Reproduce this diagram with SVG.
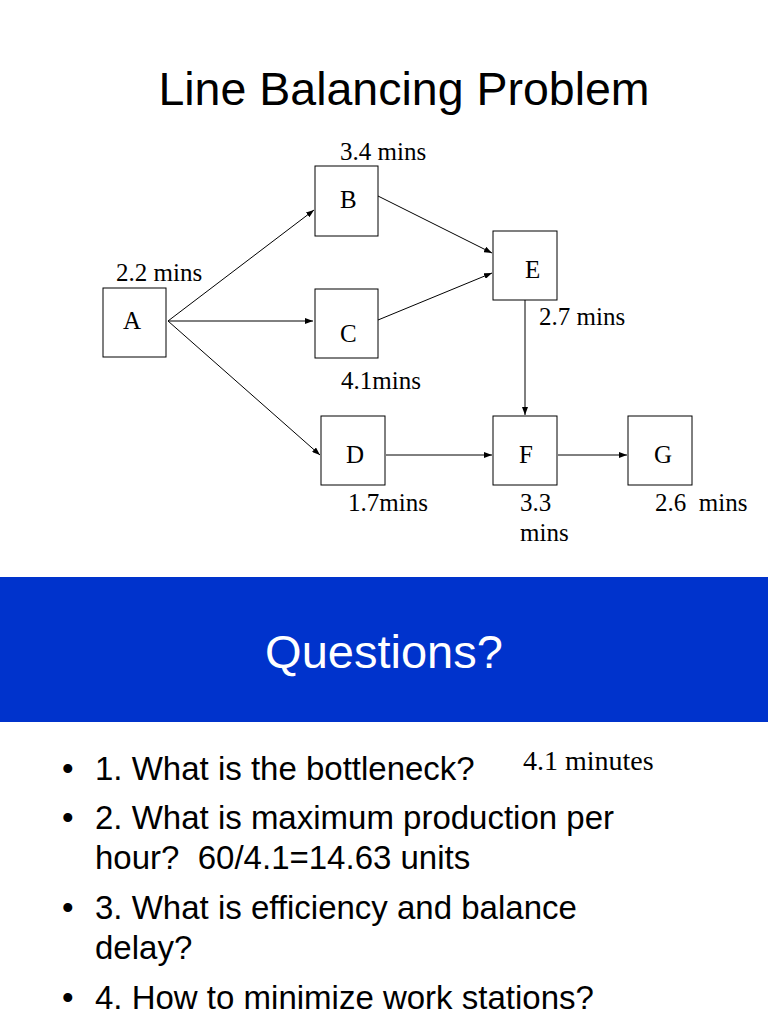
<svg xmlns="http://www.w3.org/2000/svg" width="768" height="1024" viewBox="0 0 768 1024">
<style>
.box{fill:#fff;stroke:#000;stroke-width:1}
.t{font-family:"Liberation Serif",serif;font-size:25px;fill:#000}
.s{font-family:"Liberation Sans",sans-serif;fill:#000}
.e{stroke:#000;stroke-width:1;fill:none;marker-end:url(#ah)}
</style>
<defs><marker id="ah" markerWidth="8" markerHeight="6" refX="8" refY="3" orient="auto" markerUnits="userSpaceOnUse"><path d="M0,0L8,3L0,6z" fill="#000"/></marker></defs>
<rect width="768" height="1024" fill="#fff"/>
<text class="s" x="404" y="105" style="font-size:46.5px" text-anchor="middle">Line Balancing Problem</text>
<g id="connectors">
<line class="e" x1="168" y1="321" x2="314" y2="210"/>
<line class="e" x1="168" y1="321" x2="313" y2="321"/>
<line class="e" x1="168" y1="321" x2="320" y2="455"/>
<line class="e" x1="378" y1="196" x2="492" y2="253"/>
<line class="e" x1="378" y1="320" x2="492" y2="273"/>
<line class="e" x1="525" y1="300" x2="525" y2="415"/>
<line class="e" x1="386" y1="455" x2="492" y2="455"/>
<line class="e" x1="558" y1="455" x2="627" y2="455"/>
</g>
<g id="A"><rect class="box" x="103" y="288" width="63" height="69"/><text class="t" x="123" y="329">A</text><text class="t" x="116" y="281">2.2 mins</text></g>
<g id="B"><rect class="box" x="315" y="166" width="63" height="70"/><text class="t" x="340" y="208">B</text><text class="t" x="340" y="160">3.4 mins</text></g>
<g id="C"><rect class="box" x="315" y="289" width="63" height="69"/><text class="t" x="340" y="342">C</text><text class="t" x="341" y="389">4.1mins</text></g>
<g id="E"><rect class="box" x="493" y="231" width="64" height="69"/><text class="t" x="525" y="278">E</text><text class="t" x="539" y="325">2.7 mins</text></g>
<g id="D"><rect class="box" x="321" y="416" width="64" height="69"/><text class="t" x="346" y="463">D</text><text class="t" x="348" y="511">1.7mins</text></g>
<g id="F"><rect class="box" x="493" y="416" width="64" height="69"/><text class="t" x="519" y="463">F</text><text class="t" x="520" y="511">3.3</text><text class="t" x="520" y="541">mins</text></g>
<g id="G"><rect class="box" x="628" y="416" width="64" height="69"/><text class="t" x="654" y="463">G</text><text class="t" x="655" y="511">2.6&#160; mins</text></g>
<rect x="0" y="577" width="768" height="145" fill="#0033cc"/>
<text class="s" x="384" y="668" style="font-size:47px;fill:#fff" text-anchor="middle">Questions?</text>
<g class="s" style="font-size:33px">
<text x="62" y="780">•</text><text x="95" y="780">1. What is the bottleneck?</text>
<text x="62" y="829">•</text><text x="95" y="829">2. What is maximum production per</text>
<text x="95" y="869">hour?&#160; 60/4.1=14.63 units</text>
<text x="62" y="919">•</text><text x="95" y="919">3. What is efficiency and balance</text>
<text x="95" y="959">delay?</text>
<text x="62" y="1009">•</text><text x="95" y="1009">4. How to minimize work stations?</text>
</g>
<text class="t" x="523" y="770" style="font-size:28px">4.1 minutes</text>
</svg>
